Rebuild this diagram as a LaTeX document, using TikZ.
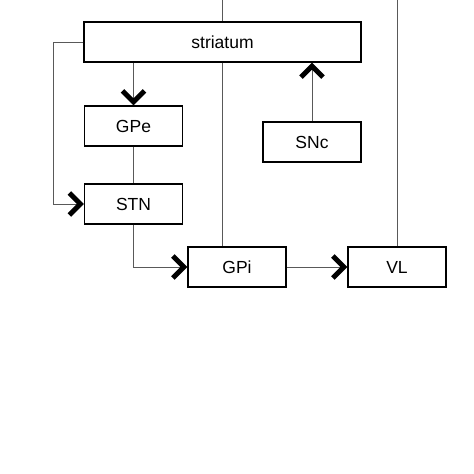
\documentclass[tikz,border=0pt]{standalone}
\usepackage{fontspec}
\setmainfont{Liberation Sans}
\usetikzlibrary{arrows.meta}
\begin{document}
\begin{tikzpicture}[x=1pt,y=-1pt,
  box/.style={draw=black,line width=1.3pt,rectangle,inner sep=0pt,minimum height=40pt,minimum width=98pt,font=\fontsize{17.5}{20}\selectfont},
  conn/.style={draw=black!65,line width=1pt},
  chev/.style={-{Straight Barb[length=11pt,width=22pt,line width=5pt,color=black]}}]
\useasboundingbox (0,0) rectangle (474,474);
\node[box,minimum width=277pt] (striatum) at (222.5,42) {striatum};
\node[box] (GPe) at (133.5,126) {GPe};
\node[box] (SNc) at (312,142) {SNc};
\node[box] (STN) at (133.5,204) {STN};
\node[box] (GPi) at (237,267) {GPi};
\node[box] (VL) at (397,267) {VL};
\coordinate (top) at (0,0);
\draw[conn] (striatum.north |- top) -- (striatum.north);
\draw[conn] (striatum.south) -- (striatum.south |- GPi.north);
\draw[conn] (VL.north) -- (VL.north |- top);
\draw[conn,chev] (GPe.north |- striatum.south) -- (GPe.north);
\draw[conn,chev] (SNc.north) -- (SNc.north |- striatum.south);
\draw[conn,chev] (striatum.west) -- ++(-30,0) |- (STN.west);
\draw[conn] (GPe.south) -- (STN.north);
\draw[conn,chev] (STN.south) |- (GPi.west);
\draw[conn,chev] (GPi.east) -- (VL.west);
\end{tikzpicture}
\end{document}
